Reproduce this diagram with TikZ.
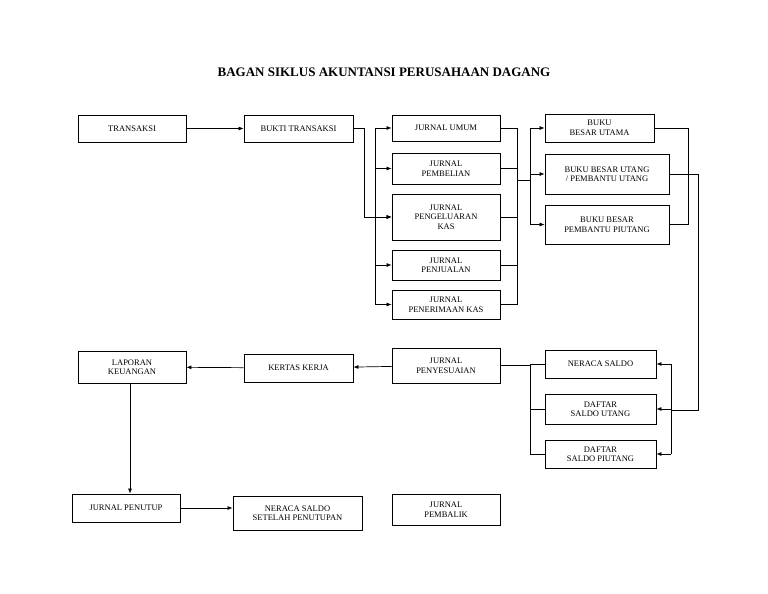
\documentclass[tikz,border=0pt]{standalone}
\usepackage{fontspec}
\setmainfont{Liberation Serif}
\usetikzlibrary{arrows.meta}
\begin{document}
\begin{tikzpicture}[x=1pt,y=-1pt,
 bx/.style={draw,line width=0.8pt,align=center,font=\fontsize{8.5}{9.5}\selectfont,inner sep=1pt},
 ar/.style={-{Latex[length=5pt,width=4pt]},line width=0.7pt},
 ln/.style={line width=0.7pt}]
\useasboundingbox (0,0) rectangle (768,594);
\newcommand\bx[6]{\node[bx,minimum width=#4-#2,minimum height=#5-#3] (#1) at ({(#2+#4)/2},{(#3+#5)/2}) {#6};}
\node[font=\bfseries\fontsize{13}{15}\selectfont] (title) at (384,72) {BAGAN SIKLUS AKUNTANSI PERUSAHAAN DAGANG};
\bx{tr}{78}{115}{186}{142}{TRANSAKSI}
\bx{bt}{244}{115}{353}{142}{BUKTI TRANSAKSI}
\bx{ju}{392}{115}{500}{141}{JURNAL UMUM}
\bx{jb}{392}{153}{500}{184}{JURNAL\\PEMBELIAN}
\bx{jk}{392}{194}{500}{240}{JURNAL\\PENGELUARAN\\KAS}
\bx{jj}{392}{250}{500}{280}{JURNAL\\PENJUALAN}
\bx{jp}{392}{290}{500}{319}{JURNAL\\PENERIMAAN KAS}
\bx{bu}{545}{114}{654}{142}{BUKU\\BESAR UTAMA}
\bx{bh}{545}{154}{669}{194}{BUKU BESAR UTANG\\/ PEMBANTU UTANG}
\bx{bp}{545}{205}{669}{244}{BUKU BESAR\\PEMBANTU PIUTANG}
\bx{ns}{545}{350}{656}{378}{NERACA SALDO}
\bx{du}{545}{394}{656}{424}{DAFTAR\\SALDO UTANG}
\bx{dp}{545}{440}{656}{468}{DAFTAR\\SALDO PIUTANG}
\bx{jy}{392}{348}{500}{383}{JURNAL\\PENYESUAIAN}
\bx{kk}{244}{354}{353}{382}{KERTAS KERJA}
\bx{lk}{78}{351}{186}{383}{LAPORAN\\KEUANGAN}
\bx{pt}{72}{494}{180}{522}{JURNAL PENUTUP}
\bx{nst}{233}{496}{362}{530}{NERACA SALDO\\SETELAH PENUTUPAN}
\bx{pb}{392}{494}{500}{525}{JURNAL\\PEMBALIK}
\draw[ar] (tr) -- (bt);
\draw[ar] (bt.east) -- ++(11,0) |- (jk.west);
\draw[ln] (375,128) -- (375,305);
\foreach \n in {ju,jb,jk,jj,jp} \draw[ar] (375,0 |- \n.west) -- (\n.west);
\foreach \n in {ju,jb,jk,jj,jp} \draw[ln] (\n.east) -- (517,0 |- \n.east);
\draw[ln] (517,0 |- ju.east) -- (517,0 |- jp.east);
\draw[ln] (517,180) -- (530,180);
\draw[ln] (530,0 |- bu.west) -- (530,0 |- bp.west);
\foreach \n in {bu,bh,bp} \draw[ar] (530,0 |- \n.west) -- (\n.west);
\draw[ln] (bu.east) -- (688,0 |- bu.east) -- (688,0 |- bp.east) -- (bp.east);
\draw[ln] (bh.east) -- (698,0 |- bh.east) -- (698,410) -- (671,410);
\draw[ln] (671,0 |- ns.east) -- (671,0 |- dp.east);
\foreach \n in {ns,du,dp} \draw[ar] (671,0 |- \n.east) -- (\n.east);
\draw[ln] (jy.east) -- (530,0 |- jy.east);
\draw[ln] (530,0 |- ns.west) -- (530,0 |- dp.west);
\foreach \n in {ns,du,dp} \draw[ln] (530,0 |- \n.west) -- (\n.west);
\draw[ar] (jy) -- (kk);
\draw[ar] (kk) -- (lk);
\draw[ar] (lk.south -| 130,0) -- (pt.north -| 130,0);
\draw[ar] (pt.east) -- (nst.west |- pt.east);
\end{tikzpicture}
\end{document}
